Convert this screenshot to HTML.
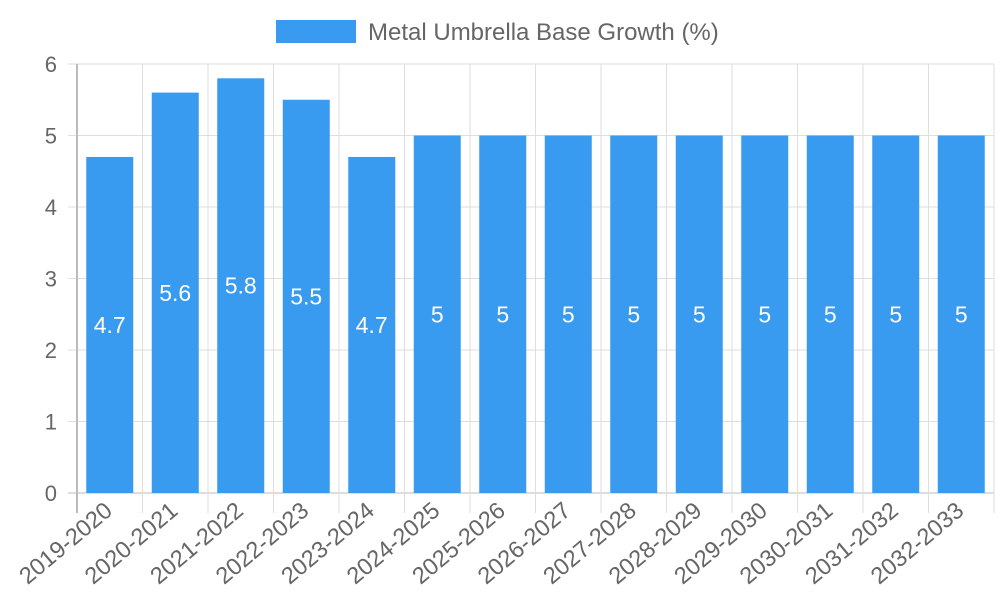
<!DOCTYPE html>
<html><head><meta charset="utf-8"><style>
html,body{margin:0;padding:0;background:#fff;}
svg{display:block;font-family:"Liberation Sans",sans-serif;}
</style></head><body>
<svg id="chart" width="1000" height="600" viewBox="0 0 1000 600">
<g>
<rect x="276" y="20" width="80" height="23" fill="#389bef"/>
<text x="368" y="40" font-size="24" fill="#666">Metal Umbrella Base Growth (%)</text>
</g>
<g id="grid"></g><g id="bars"></g><g id="labels"></g>
</svg>
<script>
const categories=["2019-2020","2020-2021","2021-2022","2022-2023","2023-2024","2024-2025","2025-2026","2026-2027","2027-2028","2028-2029","2029-2030","2030-2031","2031-2032","2032-2033"];
const values=[4.7,5.6,5.8,5.5,4.7,5,5,5,5,5,5,5,5,5];
const yTicks=[0,1,2,3,4,5,6];
const NS="http://www.w3.org/2000/svg";
const L=77,R=994,T=64,B=493,yMax=6;
const band=(R-L)/categories.length;
const y=v=>B-(v/yMax)*(B-T);
const xc=i=>L+band*(i+0.5);
function mk(tag,attrs,parent){const e=document.createElementNS(NS,tag);for(const k in attrs)e.setAttribute(k,attrs[k]);parent.appendChild(e);return e;}
const grid=document.getElementById('grid'),bars=document.getElementById('bars'),labels=document.getElementById('labels');
yTicks.forEach(t=>{
 const ln=mk('line',{x1:L-9,x2:R,y1:y(t),y2:y(t),stroke:t===0?'#bbb':'#dedede','stroke-width':1},grid);
 
 
 const tx=mk('text',{x:L-20,y:y(t)+8,'text-anchor':'end','font-size':22,fill:'#666'},grid);
 tx.textContent=t;
 
 
});
for(let i=0;i<=categories.length;i++){
 const x=L+band*i;
 const ln=mk('line',{x1:x,x2:x,y1:T,y2:B+20,stroke:i===0?'#bbb':'#dedede','stroke-width':i===0?2:1},grid);
 
 
}
const bw=47;
categories.forEach((c,i)=>{
 const r=mk('rect',{x:xc(i)-bw/2,y:y(values[i]),width:bw,height:B-y(values[i]),fill:'#389bef'},bars);
 
 
 const v=mk('text',{x:xc(i),y:(y(values[i])+B)/2+8,'text-anchor':'middle','font-size':23,fill:'#fff'},labels);
 v.textContent=values[i];
 
 
 const tx=mk('text',{x:xc(i)+4,y:513,'text-anchor':'end','font-size':23.5,fill:'#666',transform:`rotate(-40 ${xc(i)+4} 513)`},labels);
 tx.textContent=c;
 
 
});
</script>
</body></html>
